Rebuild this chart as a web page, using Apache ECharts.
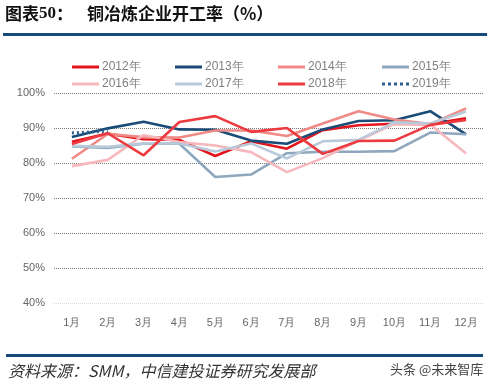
<!DOCTYPE html>
<html>
<head>
<meta charset="utf-8">
<script src="https://cdn.jsdelivr.net/npm/echarts@6/dist/echarts.min.js"></script>
<style>html,body{margin:0;padding:0;background:#fff;}#c{width:490px;height:385px;}</style>
</head>
<body>
<div id="c"></div>
<script>
const months = ['1月','2月','3月','4月','5月','6月','7月','8月','9月','10月','11月','12月'];
const yTicks = [40, 50, 60, 70, 80, 90, 100];
const y2012 = [86.1, 88.4, 86.8, 86.6, 82.0, 86.2, 84.1, 89.4, 90.8, 91.2, 91.1, 92.8];
const y2013 = [87.4, 89.9, 91.8, 89.6, 89.5, 86.4, 85.5, 89.6, 92.0, 92.2, 94.8, 88.2];
const y2014 = [81.2, 88.3, 87.4, 87.3, 89.3, 89.3, 87.7, 91.3, 94.8, 92.4, 91.1, 95.6];
const y2015 = [84.7, 84.3, 85.5, 85.5, 76.0, 76.7, 82.8, 83.2, 83.2, 83.4, 88.7, 88.2];
const y2016 = [79.1, 80.9, 88.0, 86.0, 85.0, 83.1, 77.4, 81.4, 86.4, 91.2, 91.0, 82.7];
const y2017 = [84.9, 84.6, 85.6, 85.6, 83.3, 85.6, 81.3, 86.2, 86.6, 91.6, 91.3, 94.7];
const y2018 = [85.4, 88.5, 82.2, 91.7, 93.4, 88.9, 90.0, 82.6, 86.3, 86.4, 90.9, 92.3];
const y2019 = [88.6, 89.1, null, null, null, null, null, null, null, null, null, null];
const seriesNames = ['2012年','2013年','2014年','2015年','2016年','2017年','2018年','2019年'];

const colors = ['#E3141C', '#1B4C78', '#F08A86', '#8DA7BF', '#F6B8BD', '#B8CADA', '#EC3A40', '#2E5F8E'];
const dataList = [y2012, y2013, y2014, y2015, y2016, y2017, y2018, y2019];

const chart = echarts.init(document.getElementById('c'), null, {renderer: 'canvas'});

const series = dataList.map((d, i) => ({
  name: seriesNames[i],
  type: 'line',
  data: d,
  symbol: 'none',
  smooth: false,
  z: i === 7 ? 10 : (i === 6 ? 8 : 2),
  lineStyle: {
    color: colors[i],
    width: i === 7 ? 3 : 2.6,
    type: i === 7 ? [2, 3] : 'solid'
  },
  itemStyle: {color: colors[i]}
}));

const dotIcon = 'path://M0,0h3v3h-3z M6,0h3v3h-3z M12,0h3v3h-3z M18,0h3v3h-3z M24,0h3v3h-3z';
const legendCols = [67, 170, 273, 377];
const legends = legendCols.map((x, c) => ({
  left: x,
  top: 56,
  orient: 'vertical',
  itemWidth: 27,
  itemHeight: 3,
  itemGap: 5,
  data: [
    {name: seriesNames[c], icon: 'rect'},
    {name: seriesNames[c + 4], icon: c + 4 === 7 ? dotIcon : 'rect'}
  ],
  textStyle: {fontSize: 12, color: '#7f7f7f', fontFamily: 'Liberation Sans', lineHeight: 12, padding: [0,0,0,-2]}
}));

chart.setOption({
  backgroundColor: '#ffffff',
  animation: false,
  color: colors,
  legend: legends,
  grid: {left: 54, right: 6, top: 93, bottom: 82, containLabel: false},
  xAxis: {
    type: 'category',
    data: months,
    boundaryGap: true,
    axisLine: {show: false},
    axisTick: {show: false},
    axisLabel: {color: '#666', fontSize: 11, fontFamily: 'Liberation Sans', margin: 14}
  },
  yAxis: {
    type: 'value',
    min: yTicks[0],
    max: yTicks[yTicks.length - 1],
    interval: 10,
    axisLine: {show: false},
    axisTick: {show: false},
    axisLabel: {formatter: '{value}%', color: '#666', fontSize: 11, fontFamily: 'Liberation Sans', margin: 9},
    splitLine: {
      show: true,
      lineStyle: {
        color: ['#d9d9d9', '#777', '#777', '#777', '#777', '#777', '#777'],
        type: [1, 1],
        width: 1
      }
    }
  },
  series: series,
  graphic: [
    {type: 'text', left: 5, top: 5, style: {
      text: '{a|图表}{b|50}{a|：}',
      rich: {
        a: {fontSize: 17, fontWeight: 'bold', fontFamily: 'Noto Sans CJK SC', fill: '#111'},
        b: {fontSize: 17, fontWeight: 'bold', fontFamily: 'Liberation Serif', fill: '#111'}
      }
    }},
    {type: 'text', left: 87, top: 5, style: {
      text: '铜冶炼企业开工率（%）',
      fontSize: 17, fontWeight: 'bold', fontFamily: 'Noto Sans CJK SC', fill: '#111'
    }},
    {type: 'rect', shape: {x: 3, y: 33, width: 484, height: 3}, style: {fill: '#17497A'}},
    {type: 'rect', shape: {x: 6, y: 354, width: 477, height: 3}, style: {fill: '#17497A'}},
    {type: 'text', left: 8, top: 363, style: {
      text: '资料来源：SMM，中信建投证券研究发展部',
      fontSize: 16, fontStyle: 'italic', fontFamily: 'Noto Sans CJK SC', fill: '#333'
    }},
    {type: 'text', left: 390, top: 363, style: {
      text: '头条 @未来智库',
      fontSize: 13, fontFamily: 'Noto Sans CJK SC', fill: '#444'
    }}
  ]
});
</script>
</body>
</html>
